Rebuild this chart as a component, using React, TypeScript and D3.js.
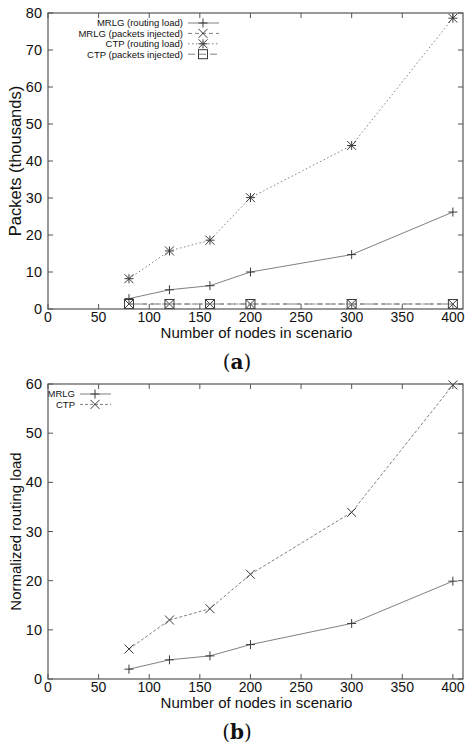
import React from "react";
import * as d3 from "d3";

const nodes = [80, 120, 160, 200, 300, 400];
const mrlgRouting = [2.8, 5.2, 6.3, 10.0, 14.7, 26.2];
const mrlgInjected = [1.35, 1.35, 1.35, 1.35, 1.35, 1.35];
const ctpRouting = [8.2, 15.7, 18.6, 30.1, 44.2, 78.6];
const ctpInjected = [1.35, 1.35, 1.35, 1.35, 1.35, 1.35];
const mrlgNorm = [2.0, 3.9, 4.7, 7.0, 11.3, 19.9];
const ctpNorm = [6.1, 12.0, 14.3, 21.3, 33.9, 59.8];

const xTicks = [0, 50, 100, 150, 200, 250, 300, 350, 400];
const yTicksA = [0, 10, 20, 30, 40, 50, 60, 70, 80];
const yTicksB = [0, 10, 20, 30, 40, 50, 60];

const legendA = ["MRLG (routing load)", "MRLG (packets injected)", "CTP (routing load)", "CTP (packets injected)"];
const legendB = ["MRLG", "CTP"];

const FONT = "'Liberation Sans', Arial, Helvetica, sans-serif";
const LINE = "#808080";
const MARK = "#3a3a3a";
const FRAME = "#555";

type MarkerKind = "plus" | "cross" | "star" | "square";

function Marker({ kind, x, y, s = 4.5 }: { kind: MarkerKind; x: number; y: number; s?: number }) {
  const st = { stroke: MARK, strokeWidth: 1, fill: "none" };
  if (kind === "plus")
    return <path d={`M${x - s},${y}H${x + s}M${x},${y - s}V${y + s}`} {...st} />;
  if (kind === "cross")
    return <path d={`M${x - s},${y - s}L${x + s},${y + s}M${x - s},${y + s}L${x + s},${y - s}`} {...st} />;
  if (kind === "star")
    return (
      <path
        d={`M${x - s},${y}H${x + s}M${x},${y - s}V${y + s}M${x - s},${y - s}L${x + s},${y + s}M${x - s},${y + s}L${x + s},${y - s}`}
        {...st}
      />
    );
  return <rect x={x - s} y={y - s} width={2 * s} height={2 * s} {...st} />;
}

type Series = { values: number[]; dash: string; marker: MarkerKind; label: string };

function Panel({
  top,
  bottom,
  yMax,
  yTicks,
  series,
  yLabel,
  yLabelSize,
  legendX,
  legendY,
  legendStep,
  legendFont,
  caption,
}: {
  top: number;
  bottom: number;
  yMax: number;
  yTicks: number[];
  series: Series[];
  yLabel: string;
  yLabelSize: number;
  legendX: number;
  legendY: number;
  legendStep: number;
  legendFont: number;
  caption: string;
}) {
  const left = 48;
  const right = 463;
  const x = d3.scaleLinear().domain([0, 410]).range([left, right]);
  const y = d3.scaleLinear().domain([0, yMax]).range([bottom, top]);
  const tl = 5;
  return (
    <g>
      {xTicks.map((t) => (
        <g key={"x" + t}>
          <line x1={x(t)} x2={x(t)} y1={bottom} y2={bottom - tl} stroke={FRAME} />
          <line x1={x(t)} x2={x(t)} y1={top} y2={top + tl} stroke={FRAME} />
          <text x={x(t)} y={bottom + 13} textAnchor="middle" fontSize={14} fontFamily={FONT} fill="#111">
            {t}
          </text>
        </g>
      ))}
      {yTicks.map((t) => (
        <g key={"y" + t}>
          <line x1={left} x2={left + tl} y1={y(t)} y2={y(t)} stroke={FRAME} />
          <line x1={right} x2={right - tl} y1={y(t)} y2={y(t)} stroke={FRAME} />
          <text x={left - 6} y={y(t) + 5} textAnchor="end" fontSize={14.5} fontFamily={FONT} fill="#111">
            {t}
          </text>
        </g>
      ))}
      {series.map((s, i) => {
        const line = d3
          .line<number>()
          .x((_, j) => x(nodes[j]))
          .y((v) => y(v));
        return (
          <g key={i}>
            <path d={line(s.values) || ""} fill="none" stroke={LINE} strokeWidth={1} strokeDasharray={s.dash} />
            {s.values.map((v, j) => (
              <Marker key={j} kind={s.marker} x={x(nodes[j])} y={y(v)} />
            ))}
          </g>
        );
      })}
      {series.map((s, i) => {
        const ly = legendY + i * legendStep;
        return (
          <g key={"l" + i}>
            <text x={legendX} y={ly + legendFont * 0.36} textAnchor="end" fontSize={legendFont} fontFamily={FONT} fill="#111">
              {s.label}
            </text>
            <line x1={legendX + 5} x2={legendX + 36} y1={ly} y2={ly} stroke={LINE} strokeDasharray={s.dash} />
            <Marker kind={s.marker} x={legendX + 20} y={ly} />
          </g>
        );
      })}
      <rect x={left} y={top} width={right - left} height={bottom - top} fill="none" stroke={FRAME} strokeWidth={1.2} />
      <text
        transform={`translate(21,${(top + bottom) / 2}) rotate(-90)`}
        textAnchor="middle"
        fontSize={yLabelSize}
        fontFamily={FONT}
        fill="#111"
      >
        {yLabel}
      </text>
      <text x={(left + right) / 2 + 1} y={bottom + 28.5} textAnchor="middle" fontSize={15} fontFamily={FONT} fill="#111">
        Number of nodes in scenario
      </text>
      <text x={237} y={bottom + 60} textAnchor="middle" fontSize={20} fontFamily="'DejaVu Serif', 'Liberation Serif', serif" fill="#111">
        (<tspan fontWeight="bold">{caption}</tspan>)
      </text>
    </g>
  );
}

export default function App() {
  const seriesA: Series[] = [
    { values: mrlgRouting, dash: "", marker: "plus", label: legendA[0] },
    { values: mrlgInjected, dash: "4,3", marker: "cross", label: legendA[1] },
    { values: ctpRouting, dash: "1.5,2.5", marker: "star", label: legendA[2] },
    { values: ctpInjected, dash: "7,4", marker: "square", label: legendA[3] },
  ];
  const seriesB: Series[] = [
    { values: mrlgNorm, dash: "", marker: "plus", label: legendB[0] },
    { values: ctpNorm, dash: "3,2", marker: "cross", label: legendB[1] },
  ];
  return (
    <svg width={474} height={748} style={{ position: "absolute", left: 0, top: 0, background: "#fff" }}>
      <rect width={474} height={748} fill="#fff" />
      <Panel
        top={13}
        bottom={309}
        yMax={80}
        yTicks={yTicksA}
        series={seriesA}
        yLabel="Packets (thousands)"
        yLabelSize={16.5}
        legendX={183}
        legendY={23}
        legendStep={10.4}
        legendFont={9.5}
        caption="a"
      />
      <Panel
        top={384}
        bottom={679}
        yMax={60}
        yTicks={yTicksB}
        series={seriesB}
        yLabel="Normalized routing load"
        yLabelSize={15}
        legendX={75}
        legendY={394}
        legendStep={10.4}
        legendFont={9.5}
        caption="b"
      />
    </svg>
  );
}
